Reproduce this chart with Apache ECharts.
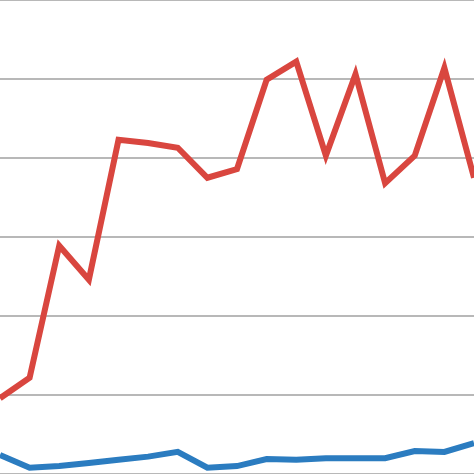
<!DOCTYPE html>
<html><head><meta charset="utf-8">
<script src="https://cdn.jsdelivr.net/npm/echarts@6/dist/echarts.min.js"></script>
<style>html,body{margin:0;padding:0;background:#fff}#c{width:474px;height:474px}</style>
</head><body><div id="c"></div>
<script>
const categories = ['1','2','3','4','5','6','7','8','9','10','11','12','13','14','15','16','17'];
const redValues = [-0.4,2.2,18.9,14.6,32.3,31.9,31.3,27.5,28.6,39.9,42.2,30.3,40.6,26.8,30.3,41.4,27.5];
const blueValues = [-7.6,-9.2,-9.0,-8.6,-8.2,-7.8,-7.2,-9.2,-9.0,-8.1,-8.2,-8.0,-8.0,-8.0,-7.1,-7.2,-6.1];
const chart = echarts.init(document.getElementById('c'));
chart.setOption({
  animation:false,
  grid:{left:0,right:-6,top:-4,bottom:-4,containLabel:false},
  xAxis:{type:'category',data:categories,boundaryGap:false,show:false},
  yAxis:{type:'value',min:-10,max:50,interval:10,axisLabel:{show:false},axisLine:{show:false},axisTick:{show:false},
    splitLine:{lineStyle:{color:'#a0a0a0',width:1.5}}},
  series:[
    {type:'line',data:redValues,symbol:'none',lineStyle:{color:'#d9463f',width:6,join:'miter'}},
    {type:'line',data:blueValues,symbol:'none',lineStyle:{color:'#2b7cc0',width:6,join:'miter'}}
  ]
});
</script></body></html>
